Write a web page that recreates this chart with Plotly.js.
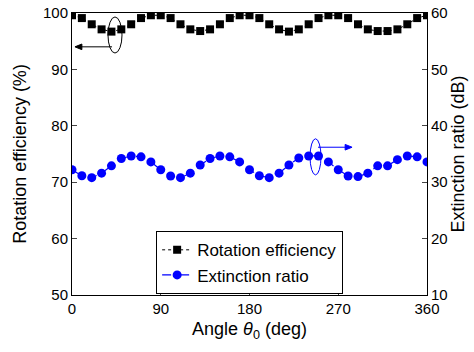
<!DOCTYPE html>
<html>
<head>
<meta charset="utf-8">
<script src="https://cdn.plot.ly/plotly-3.0.1.min.js"></script>
<style>html,body{margin:0;padding:0;background:#fff;}#chart{width:474px;height:352px;}</style>
</head>
<body>
<div id="chart"></div>
<script>
const angles = [0,10,20,30,40,50,60,70,80,90,100,110,120,130,140,150,160,170,180,190,200,210,220,230,240,250,260,270,280,290,300,310,320,330,340,350,360];
const rotationEfficiency = [99.6,99.1,98.0,97.1,96.7,97.1,98.0,99.1,99.6,99.6,99.1,98.0,97.1,96.8,97.1,98.0,99.1,99.6,99.6,99.1,98.0,97.1,96.7,97.1,98.0,99.1,99.6,99.6,99.1,98.0,97.1,96.8,96.8,97.1,98.0,99.1,99.6];
const extinctionRatio = [32.2,31.15,30.8,31.6,32.9,34.2,34.65,34.5,33.6,32.2,31.1,30.8,31.6,33.05,34.2,34.65,34.5,33.6,32.2,31.15,30.8,31.6,33.05,34.3,34.65,34.65,33.6,32.2,31.1,31.0,31.6,32.9,32.9,34.0,34.65,34.5,33.6];
const xTicks = [0,90,180,270,360];
const leftTicks = [50,60,70,80,90,100];
const rightTicks = [10,20,30,40,50,60];

const FONT = 'Liberation Sans, Arial, sans-serif';

const traces = [
  {x: angles, y: rotationEfficiency, name: 'Rotation efficiency', type: 'scatter', mode: 'lines+markers',
   line: {color: '#000', width: 1, dash: 'dot'}, marker: {symbol: 'square', size: 8, color: '#000'}},
  {x: angles, y: extinctionRatio, name: 'Extinction ratio', type: 'scatter', mode: 'lines+markers', yaxis: 'y2',
   line: {color: '#0000ff', width: 1.2, dash: 'dash'}, marker: {symbol: 'circle', size: 9, color: '#0000ff'}}
];

const layout = {
  width: 474, height: 352,
  margin: {l: 72, r: 47, t: 13, b: 57},
  paper_bgcolor: '#fff', plot_bgcolor: '#fff',
  font: {family: FONT, size: 15, color: '#000'},
  showlegend: true,
  legend: {x: 0.237, y: 0.226, xanchor: 'left', yanchor: 'top', bordercolor: '#000', borderwidth: 1,
           bgcolor: '#fff', font: {family: FONT, size: 17, color: '#000'}, tracegroupgap: 0, itemwidth: 30},
  xaxis: {range: [0, 360], tickvals: xTicks, ticktext: xTicks.map(String), ticks: 'inside', ticklen: 5,
          showline: true, linecolor: '#000', linewidth: 1, mirror: true, showgrid: false, zeroline: false,
          tickfont: {family: FONT, size: 15},
          title: {text: 'Angle <i>θ</i><sub>0</sub> (deg)', font: {family: FONT, size: 18}, standoff: 6}},
  yaxis: {range: [50, 100], tickvals: leftTicks, ticks: 'inside', ticklen: 5,
          showline: true, linecolor: '#000', linewidth: 1, showgrid: false, zeroline: false,
          tickfont: {family: FONT, size: 15},
          title: {text: 'Rotation efficiency (%)', font: {family: FONT, size: 18}, standoff: 11}},
  yaxis2: {range: [10, 60], tickvals: rightTicks, ticks: 'inside', ticklen: 5, overlaying: 'y', side: 'right',
           showline: true, linecolor: '#000', linewidth: 1, showgrid: false, zeroline: false,
           tickfont: {family: FONT, size: 15},
           title: {text: 'Extinction ratio (dB)', font: {family: FONT, size: 18}, standoff: 3}},
  shapes: [
    {type: 'circle', xref: 'x', yref: 'y', x0: 36.5, x1: 50.7, y0: 92.9, y1: 99.3, line: {color: '#000', width: 1}},
    {type: 'circle', xref: 'x', yref: 'y2', x0: 241.4, x1: 252.5, y0: 31.3, y1: 37.7, line: {color: '#0000ff', width: 1}},
    {type: 'line', xref: 'x', yref: 'y', x0: 40.6, x1: 8, y0: 94.0, y1: 94.0, line: {color: '#000', width: 1}},
    {type: 'path', xref: 'x', yref: 'y', path: 'M 3 94.0 L 10 94.5 L 10 93.5 Z', fillcolor: '#000', line: {color: '#000', width: 1}},
    {type: 'line', xref: 'x', yref: 'y2', x0: 249.5, x1: 279, y0: 36.2, y1: 36.2, line: {color: '#0000ff', width: 1}},
    {type: 'path', xref: 'x', yref: 'y2', path: 'M 284 36.2 L 277 36.7 L 277 35.7 Z', fillcolor: '#0000ff', line: {color: '#0000ff', width: 1}}
  ]
};

Plotly.newPlot('chart', traces, layout, {displayModeBar: false, staticPlot: true});
</script>
</body>
</html>
